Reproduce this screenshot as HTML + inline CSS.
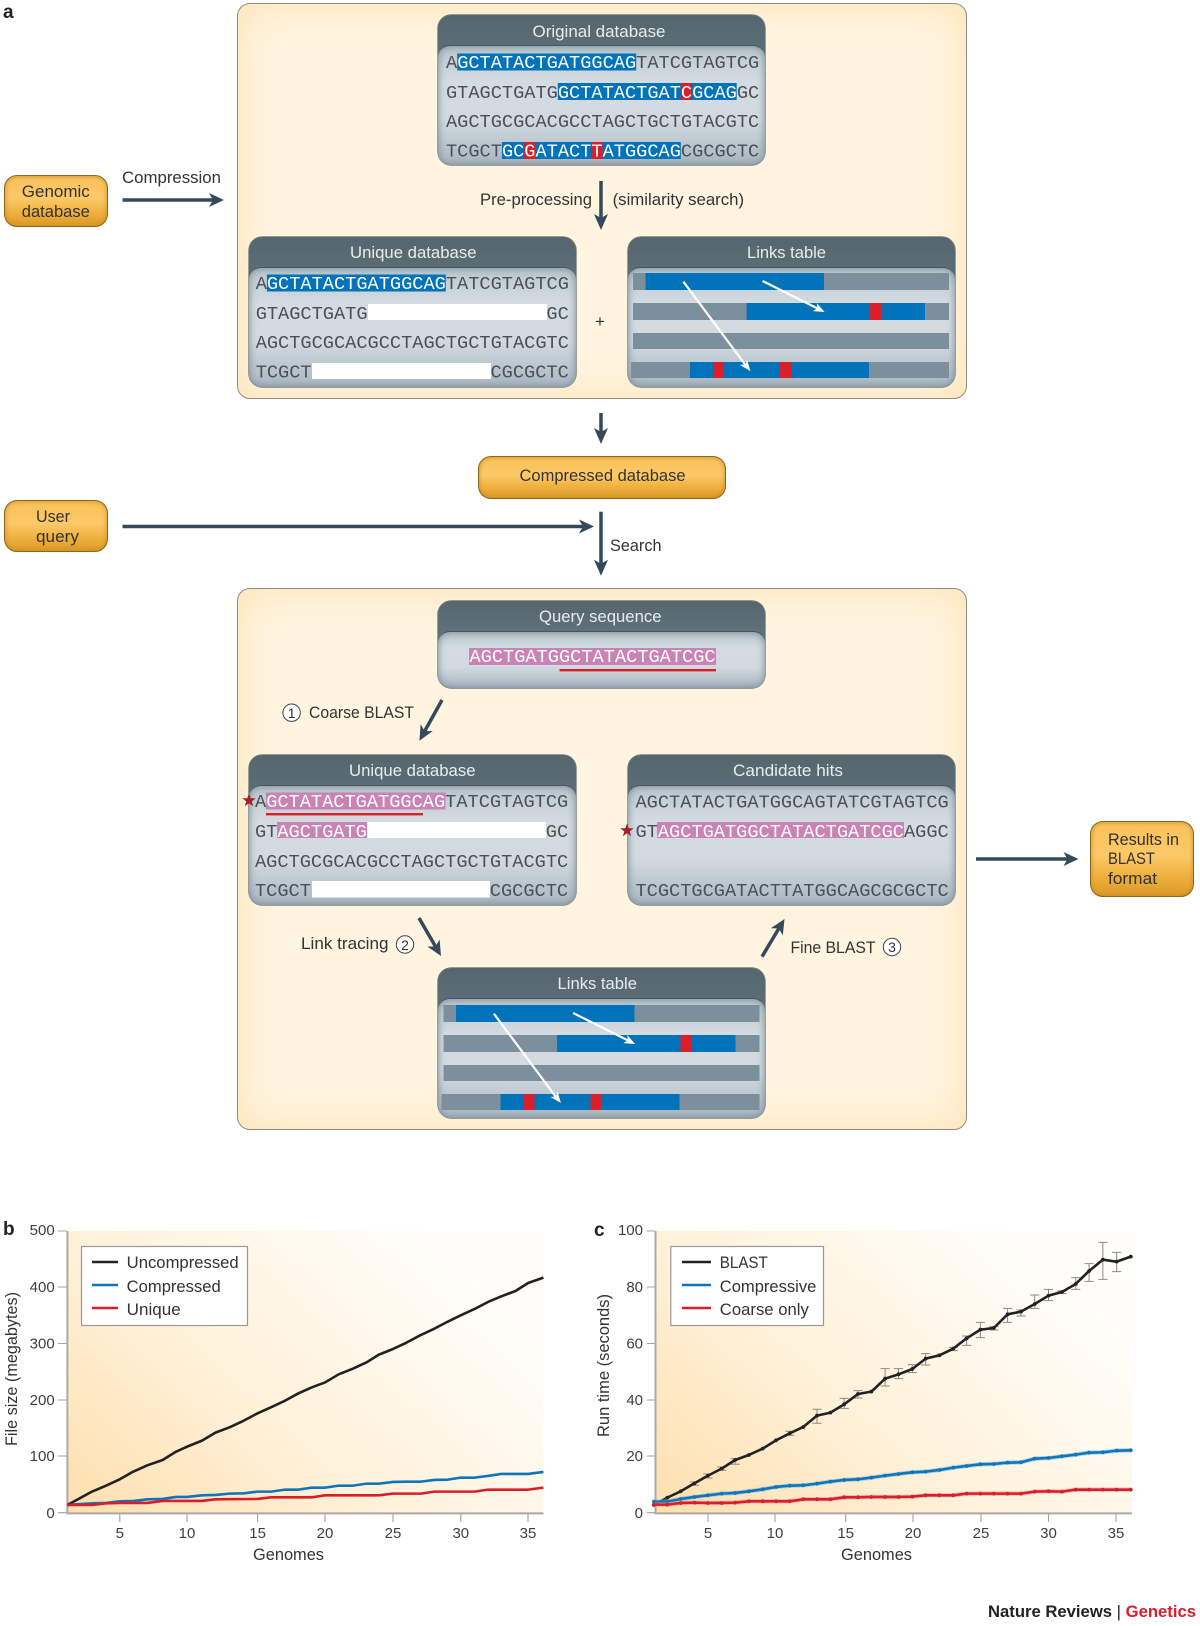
<!DOCTYPE html>
<html><head><meta charset="utf-8"><style>
html,body{margin:0;padding:0;background:#fff}
body{position:relative;width:1200px;height:1626px;overflow:hidden;font-family:"Liberation Sans",sans-serif}
.o{position:absolute;box-sizing:border-box;left:237px;width:729.5px;background:#fff4e0;border:1px solid #8d8d84;border-radius:13px;box-shadow:inset 0 0 42px #ffe2b2}
.p{position:absolute;box-sizing:border-box;width:327px;background:linear-gradient(#56666f,#68787f 60%,#4e5e69);border-radius:13px;box-shadow:0 0 0 .6px #56666f}
.b{position:absolute;left:0;right:0;top:30px;bottom:0;border-radius:12px;border-top:1px solid #46565f;background:linear-gradient(#b9c6ce 0,#d4dce2 30%,#d2dae0 62%,#a8b6c0 100%);box-shadow:inset 0 0 8px #75858f}
.g{position:absolute;box-sizing:border-box;border:1px solid #8a6820;border-radius:13px;background:linear-gradient(#f8c15a 0,#fcc968 45%,#efb13f 72%,#dc9a27 100%);box-shadow:inset 0 0 5px #c98a1e}
svg{position:absolute;left:0;top:0}
text{font-family:"Liberation Sans",sans-serif;font-size:16.5px;fill:#333}
.m{font-family:"Liberation Mono",monospace;font-size:18.65px;fill:#4a5055;white-space:pre}
.h{fill:#e6edf0;font-size:17px}
.w{fill:#fff}
.t{font-size:15px;fill:#3f3f3f}
.l{font-weight:bold;font-size:19px;fill:#222}
.v{vector-effect:non-scaling-stroke;fill:none;stroke-linejoin:round}
</style></head><body>
<div class="o" style="top:3px;height:395.5px"></div>
<div class="o" style="top:588px;height:542px"></div>

<div class="p" style="left:438px;top:15px;height:150px"><div class="b"></div></div>
<div class="p" style="left:249px;top:236.5px;height:150.5px"><div class="b"></div></div>
<div class="p" style="left:627.5px;top:236.5px;height:150.5px"><div class="b"></div></div>
<div class="p" style="left:438px;top:601px;height:87px"><div class="b"></div></div>
<div class="p" style="left:249px;top:754.5px;height:150px"><div class="b"></div></div>
<div class="p" style="left:627.5px;top:754.5px;height:150px"><div class="b"></div></div>
<div class="p" style="left:438px;top:968px;height:150px"><div class="b"></div></div>

<div class="g" style="left:4px;top:175px;width:104px;height:52px"></div>
<div class="g" style="left:4px;top:500px;width:104px;height:52px"></div>
<div class="g" style="left:478px;top:456px;width:248px;height:42.5px"></div>
<div class="g" style="left:1090px;top:821px;width:103.5px;height:75.5px"></div>

<svg width="1200" height="1626" viewBox="0 0 1200 1626" xmlns="http://www.w3.org/2000/svg">
<defs>
<linearGradient id="pg" x1="0" y1="1" x2="1" y2="0.35"><stop offset="0" stop-color="#fedfae"/><stop offset=".45" stop-color="#fff1d9"/><stop offset="1" stop-color="#fffefb"/></linearGradient>
<marker id="mk" markerUnits="userSpaceOnUse" markerWidth="14" markerHeight="14" refX="7" refY="7"><ellipse cx="7" cy="7" rx="5" ry="5.7" fill="#222"/></marker>
<marker id="mb" markerUnits="userSpaceOnUse" markerWidth="14" markerHeight="14" refX="7" refY="7"><ellipse cx="7" cy="7" rx="5" ry="5.7" fill="#0f75b8"/></marker>
<marker id="mr" markerUnits="userSpaceOnUse" markerWidth="14" markerHeight="14" refX="7" refY="7"><ellipse cx="7" cy="7" rx="5" ry="5.7" fill="#d71f2b"/></marker>
<g id="links">
<g fill="#7b909c">
<rect x="633" y="273" width="316" height="17"/><rect x="633" y="303" width="316" height="17"/><rect x="633" y="333" width="316" height="16"/><rect x="631" y="362" width="318" height="16"/>
</g>
<g fill="#0073ba">
<rect x="645.5" y="273" width="178.5" height="17"/><rect x="746.6" y="303" width="178.4" height="17"/><rect x="690" y="362" width="179" height="16"/>
</g>
<g fill="#d91f2a">
<rect x="870" y="303" width="11" height="17"/><rect x="713" y="362" width="11" height="16"/><rect x="780" y="362" width="11" height="16"/>
</g>
<g stroke="#fff" stroke-width="2.2" fill="none"><path d="M683.4 281.7L745.2 364.6"/><path d="M762.6 281L817.4 308.4"/></g>
<g fill="#fff"><path d="M750.4 371L747 359.5L745.2 364.6L739.8 364.9Z"/><path d="M824.6 312L816.8 303.1L817.4 308.4L812.8 311.1Z"/></g>
</g>
</defs>

<!-- section labels -->
<text class="l" x="3" y="18">a</text>
<text class="l" x="3" y="1235">b</text>
<text class="l" x="594" y="1236">c</text>

<!-- orange box text -->
<text x="21.8" y="197" textLength="68" lengthAdjust="spacingAndGlyphs">Genomic</text>
<text x="21.8" y="217" textLength="68" lengthAdjust="spacingAndGlyphs">database</text>
<text x="36" y="522" textLength="34" lengthAdjust="spacingAndGlyphs">User</text>
<text x="36" y="542" textLength="43" lengthAdjust="spacingAndGlyphs">query</text>
<text x="519.5" y="481" textLength="166" lengthAdjust="spacingAndGlyphs">Compressed database</text>
<text x="1108" y="845" textLength="71" lengthAdjust="spacingAndGlyphs">Results in</text>
<text x="1108" y="864" textLength="47" lengthAdjust="spacingAndGlyphs">BLAST</text>
<text x="1108" y="884" textLength="49" lengthAdjust="spacingAndGlyphs">format</text>

<!-- dark arrows -->
<g stroke="#34495a" stroke-width="3.5" fill="none">
<path d="M122.5 200H214"/><path d="M122.5 526.5H584"/><path d="M601 181V218"/><path d="M601 413V432"/><path d="M601 511.7V564"/>
<path d="M976 859H1068"/><path d="M442 700L424.7 731.1"/><path d="M419 918L435.5 946.5"/><path d="M762 956.7L778.9 928.4"/>
</g>
<g fill="#34495a">
<path d="M224 200L209 193L213 200L209 207Z"/>
<path d="M594 526.5L579 519.5L583 526.5L579 533.5Z"/>
<path d="M601 230L594 214L601 218L608 214Z"/>
<path d="M601 444L594 428L601 432L608 428Z"/>
<path d="M601 575.7L594 559.7L601 563.7L608 559.7Z"/>
<path d="M1078.5 859L1063.5 852L1067.5 859L1063.5 866Z"/>
<path d="M419.4 740.7L432.8 731L424.7 731.1L420.6 724.2Z"/>
<path d="M441 956L439.6 939.5L435.5 946.5L427.4 946.5Z"/>
<path d="M784.5 919L782.8 935.5L778.9 928.4L770.8 928.3Z"/>
</g>

<!-- flow labels -->
<text x="122" y="183" textLength="99" lengthAdjust="spacingAndGlyphs">Compression</text>
<text x="480" y="205" textLength="112" lengthAdjust="spacingAndGlyphs">Pre-processing</text>
<text x="612.6" y="205" textLength="131.5" lengthAdjust="spacingAndGlyphs">(similarity search)</text>
<text x="610" y="551" textLength="51.5" lengthAdjust="spacingAndGlyphs">Search</text>
<text x="309" y="718" textLength="105" lengthAdjust="spacingAndGlyphs">Coarse BLAST</text>
<text x="301" y="949" textLength="87.5" lengthAdjust="spacingAndGlyphs">Link tracing</text>
<text x="790.5" y="953" textLength="85" lengthAdjust="spacingAndGlyphs">Fine BLAST</text>
<text x="600" y="327" text-anchor="middle" style="font-size:17px">+</text>
<g fill="#fff" stroke="#444" stroke-width="1"><circle cx="291.6" cy="712.7" r="8.7"/><circle cx="405" cy="944.5" r="8.7"/><circle cx="892" cy="947" r="8.7"/></g>
<text x="291.6" y="718" text-anchor="middle" style="font-size:14px">1</text><text x="405" y="950" text-anchor="middle" style="font-size:14px">2</text><text x="892" y="952" text-anchor="middle" style="font-size:14px">3</text>

<!-- panel titles -->
<text class="h" x="532.5" y="37" textLength="133" lengthAdjust="spacingAndGlyphs">Original database</text>
<text class="h" x="350" y="258" textLength="126.5" lengthAdjust="spacingAndGlyphs">Unique database</text>
<text class="h" x="747" y="258" textLength="79" lengthAdjust="spacingAndGlyphs">Links table</text>
<text class="h" x="539" y="622" textLength="122.5" lengthAdjust="spacingAndGlyphs">Query sequence</text>
<text class="h" x="349" y="776" textLength="126.5" lengthAdjust="spacingAndGlyphs">Unique database</text>
<text class="h" x="733" y="776" textLength="110" lengthAdjust="spacingAndGlyphs">Candidate hits</text>
<text class="h" x="557.5" y="989" textLength="79.5" lengthAdjust="spacingAndGlyphs">Links table</text>

<!-- original database -->
<g fill="#0073ba">
<rect x="457.2" y="53.5" width="179" height="17"/><rect x="557.8" y="83" width="178.9" height="17"/><rect x="501.9" y="142" width="178.9" height="17"/>
</g>
<g fill="#d91f2a"><rect x="680.8" y="83" width="11.2" height="17"/><rect x="524.3" y="142" width="11.2" height="17"/><rect x="591.3" y="142" width="11.2" height="17"/></g>
<text class="m" x="446" y="68">A<tspan class="w">GCTATACTGATGGCAG</tspan>TATCGTAGTCG</text>
<text class="m" x="446" y="98">GTAGCTGATG<tspan class="w">GCTATACTGATCGCAG</tspan>GC</text>
<text class="m" x="446" y="127">AGCTGCGCACGCCTAGCTGCTGTACGTC</text>
<text class="m" x="446" y="156.5">TCGCT<tspan class="w">GCGATACTTATGGCAG</tspan>CGCGCTC</text>

<!-- unique database -->
<rect x="266.9" y="274.5" width="178.9" height="17" fill="#0073ba"/>
<g fill="#fff"><rect x="368" y="304" width="179" height="16"/><rect x="312" y="363" width="179" height="16"/></g>
<text class="m" x="255.7" y="289">A<tspan class="w">GCTATACTGATGGCAG</tspan>TATCGTAGTCG</text>
<text class="m" x="255.7" y="319">GTAGCTGATG</text>
<text class="m" x="546.4" y="319">GC</text>
<text class="m" x="255.7" y="348">AGCTGCGCACGCCTAGCTGCTGTACGTC</text>
<text class="m" x="255.7" y="377.5">TCGCT</text>
<text class="m" x="490.5" y="377.5">CGCGCTC</text>

<!-- links tables -->
<use href="#links"/>
<use href="#links" transform="translate(-189.5 732)"/>

<!-- query -->
<rect x="469" y="648" width="247" height="17" fill="#c983b5"/>
<text class="m w" x="469.5" y="662">AGCTGATGGCTATACTGATCGC</text>
<rect x="559.5" y="669" width="156.5" height="2.4" fill="#d91f2a"/>

<!-- unique 2 -->
<g fill="#c983b5"><rect x="266" y="792.5" width="179.5" height="17"/><rect x="277" y="822" width="90" height="16"/></g>
<g fill="#fff"><rect x="367.5" y="822" width="178.5" height="16"/><rect x="312" y="881" width="178" height="16.5"/></g>
<text class="m" x="255" y="807">A<tspan class="w">GCTATACTGATGGCAG</tspan>TATCGTAGTCG</text>
<rect x="266" y="813" width="157" height="2.4" fill="#d91f2a"/>
<text class="m" x="255" y="837">GT<tspan class="w">AGCTGATG</tspan></text>
<text class="m" x="545.8" y="837">GC</text>
<text class="m" x="255" y="867">AGCTGCGCACGCCTAGCTGCTGTACGTC</text>
<text class="m" x="255" y="896">TCGCT</text>
<text class="m" x="489.8" y="896">CGCGCTC</text>
<path d="M249 793.5l1.7 4.7 5 .1-4 3.1 1.5 4.8-4.2-2.9-4.2 2.9 1.5-4.8-4-3.1 5-.1Z" fill="#a3202a"/>

<!-- candidate -->
<rect x="657" y="822" width="247" height="16" fill="#c983b5"/>
<text class="m" x="635.5" y="807.5">AGCTATACTGATGGCAGTATCGTAGTCG</text>
<text class="m" x="635.5" y="837">GT<tspan class="w">AGCTGATGGCTATACTGATCGC</tspan>AGGC</text>
<text class="m" x="635.5" y="896">TCGCTGCGATACTTATGGCAGCGCGCTC</text>
<path d="M627 823.5l1.7 4.7 5 .1-4 3.1 1.5 4.8-4.2-2.9-4.2 2.9 1.5-4.8-4-3.1 5-.1Z" fill="#a3202a"/>

<!-- chart b -->
<rect x="67.4" y="1231" width="476" height="281.7" fill="url(#pg)"/>
<g stroke="#a3a3a0" stroke-width="1.1">
<path d="M58 1231H67M58 1287H67M58 1343.5H67M58 1400H67M58 1456H67M58 1512.7H67"/>
<path d="M119.8 1513V1522M187 1513V1522M257.6 1513V1522M325 1513V1522M393 1513V1522M460.8 1513V1522M528 1513V1522"/>
</g>
<path d="M67.4 1231V1513.4H543.4" fill="none" stroke="#aaa9a5" stroke-width="2"/>
<text class="t" x="54.7" y="1235" text-anchor="end">500</text><text class="t" x="54.7" y="1292" text-anchor="end">400</text><text class="t" x="54.7" y="1348.5" text-anchor="end">300</text><text class="t" x="54.7" y="1405" text-anchor="end">200</text><text class="t" x="54.7" y="1461" text-anchor="end">100</text><text class="t" x="54.7" y="1518" text-anchor="end">0</text>
<text class="t" x="119.8" y="1538" text-anchor="middle">5</text><text class="t" x="187" y="1538" text-anchor="middle">10</text><text class="t" x="257.6" y="1538" text-anchor="middle">15</text><text class="t" x="325" y="1538" text-anchor="middle">20</text><text class="t" x="393" y="1538" text-anchor="middle">25</text><text class="t" x="460.8" y="1538" text-anchor="middle">30</text><text class="t" x="528" y="1538" text-anchor="middle">35</text>
<text x="253" y="1560" textLength="71" lengthAdjust="spacingAndGlyphs">Genomes</text>
<text transform="translate(17 1446) rotate(-90)" x="0" y="0" textLength="154" lengthAdjust="spacingAndGlyphs">File size (megabytes)</text>

<g transform="translate(0 1200) scale(.3827 .3333)">
<polyline class="v" stroke="#222" stroke-width="2.6" points="176,915 205,897 240,875 277,857 313,838 348,815 385,796 425,780 460,755 489,740 528,722 563,698 600,682 637,662 673,640 708,622 745,602 780,580 815,562 850,547 885,523 922,506 958,487 990,464 1027,447 1062,428 1098,406 1135,386 1170,365 1204,346 1240,327 1275,306 1310,289 1347,273 1380,249 1420,233"/>
<polyline class="v" stroke="#0f75b8" stroke-width="2.6" points="176,915 240,910 277,909 313,904 350,903 385,898 425,897 460,891 489,891 528,886 563,885 600,881 637,880 673,875 708,875 745,869 780,869 815,863 850,863 885,857 922,857 958,851 990,851 1027,846 1062,845 1100,845 1135,840 1170,839 1204,833 1240,833 1275,828 1310,822 1347,822 1380,822 1420,816"/>
<polyline class="v" stroke="#d71f2b" stroke-width="2.6" points="176,915 240,915 277,910 313,909 385,909 425,903 528,903 563,898 673,897 708,892 815,892 850,886 990,886 1027,881 1100,881 1135,875 1240,875 1275,869 1380,869 1420,863"/>
</g>
<rect x="81.5" y="1246.5" width="166" height="79" fill="#fff" stroke="#9a9a9a" stroke-width="1.2"/>
<path d="M92 1262H118" stroke="#222" stroke-width="2.4"/><path d="M92 1285H118" stroke="#0f75b8" stroke-width="2.4"/><path d="M92 1308H118" stroke="#d71f2b" stroke-width="2.4"/>
<text x="126.7" y="1268" textLength="112" lengthAdjust="spacingAndGlyphs">Uncompressed</text>
<text x="126.7" y="1292" textLength="94" lengthAdjust="spacingAndGlyphs">Compressed</text>
<text x="126.7" y="1315" textLength="54" lengthAdjust="spacingAndGlyphs">Unique</text>

<!-- chart c -->
<rect x="655.5" y="1231" width="476.5" height="281.7" fill="url(#pg)"/>
<g stroke="#a3a3a0" stroke-width="1.1">
<path d="M646.7 1231H655M646.7 1287H655M646.7 1343.5H655M646.7 1400H655M646.7 1456H655M646.7 1512.7H655"/>
<path d="M708 1513V1522M775 1513V1522M845.7 1513V1522M913 1513V1522M981 1513V1522M1048.5 1513V1522M1116 1513V1522"/>
</g>
<path d="M655.5 1231V1513.4H1132" fill="none" stroke="#aaa9a5" stroke-width="2"/>
<text class="t" x="643" y="1235" text-anchor="end">100</text><text class="t" x="643" y="1292" text-anchor="end">80</text><text class="t" x="643" y="1348.5" text-anchor="end">60</text><text class="t" x="643" y="1405" text-anchor="end">40</text><text class="t" x="643" y="1461" text-anchor="end">20</text><text class="t" x="643" y="1518" text-anchor="end">0</text>
<text class="t" x="708" y="1538" text-anchor="middle">5</text><text class="t" x="775" y="1538" text-anchor="middle">10</text><text class="t" x="845.7" y="1538" text-anchor="middle">15</text><text class="t" x="913" y="1538" text-anchor="middle">20</text><text class="t" x="981" y="1538" text-anchor="middle">25</text><text class="t" x="1048.5" y="1538" text-anchor="middle">30</text><text class="t" x="1116" y="1538" text-anchor="middle">35</text>
<text x="841" y="1560" textLength="71" lengthAdjust="spacingAndGlyphs">Genomes</text>
<text transform="translate(609 1437) rotate(-90)" x="0" y="0" textLength="143" lengthAdjust="spacingAndGlyphs">Run time (seconds)</text>

<g transform="translate(600 1200) scale(.3827 .3333)">
<path class="v" stroke="#8a8a85" stroke-width="1" d="M1314 127V238M1302 127H1326M1302 238H1326M1350 157V215M1338 157H1362M1338 215H1362M1278 191V244M1266 191H1290M1266 244H1290M1243 233V268M1231 233H1255M1231 268H1255M1172 268V302M1160 268H1184M1160 302H1184M1136 285V325M1124 285H1148M1124 325H1148M1100 330V348M1088 330H1112M1088 348H1112M1065 325V367M1053 325H1077M1053 367H1077M994 367V413M982 367H1006M982 413H1006M958 408V436M946 408H970M946 436H970M851 461V495M839 461H863M839 495H863M816 494V518M804 494H828M804 518H828M780 506V536M768 506H792M768 536H792M745 506V558M733 506H757M733 558H757M674 572V594M662 572H686M662 594H686M638 595V625M626 595H650M626 625H650M567 628V670M555 628H579M555 670H579M353 776V793M341 776H365M341 793H365M282 822V834M270 822H294M270 834H294M247 846V856M235 846H259M235 856H259M496 694V706M484 694H508M484 706H508M1029 380V390M1017 380H1041M1017 390H1041M1207 273V280M1195 273H1219M1195 280H1219M923 442V452M911 442H935M911 452H935M318 801V811M306 801H330M306 811H330"/>
<polyline class="v" stroke="#222" stroke-width="2.6" marker-start="url(#mk)" marker-mid="url(#mk)" marker-end="url(#mk)" points="141,915 176,893 211,874 247,850 282,827 318,806 353,780 389,765 425,746 460,721 496,700 531,681 567,647 602,638 638,613 674,582 709,575 745,536 780,523 816,507 851,476 887,466 923,446 958,415 994,389 1029,384 1065,343 1100,335 1136,312 1172,287 1207,276 1243,252 1278,213 1314,179 1350,185 1387,170"/>
<polyline class="v" stroke="#7dbbe0" stroke-opacity=".55" stroke-width="4.5" points="141,905 176,905 211,897 247,891 282,886 318,881 353,879 389,874 425,868 460,861 496,857 531,856 567,851 602,845 638,840 674,838 709,833 745,827 780,822 816,817 851,815 887,810 923,803 958,798 994,793 1029,792 1065,788 1100,787 1136,776 1172,774 1207,769 1243,764 1278,758 1314,757 1350,752 1387,751"/>
<polyline class="v" stroke="#0f75b8" stroke-width="2.6" marker-start="url(#mb)" marker-mid="url(#mb)" marker-end="url(#mb)" points="141,905 176,905 211,897 247,891 282,886 318,881 353,879 389,874 425,868 460,861 496,857 531,856 567,851 602,845 638,840 674,838 709,833 745,827 780,822 816,817 851,815 887,810 923,803 958,798 994,793 1029,792 1065,788 1100,787 1136,776 1172,774 1207,769 1243,764 1278,758 1314,757 1350,752 1387,751"/>
<polyline class="v" stroke="#ee8f8f" stroke-opacity=".5" stroke-width="4.5" points="141,914 176,914 211,909 247,908 282,909 318,909 353,908 389,904 425,904 460,904 496,904 531,898 567,898 602,898 638,892 674,892 709,891 745,891 780,891 816,890 851,886 887,886 923,886 958,881 994,881 1029,881 1065,881 1100,881 1136,875 1172,874 1207,875 1243,869 1278,869 1314,869 1350,869 1387,869"/>
<polyline class="v" stroke="#d71f2b" stroke-width="2.6" marker-start="url(#mr)" marker-mid="url(#mr)" marker-end="url(#mr)" points="141,914 176,914 211,909 247,908 282,909 318,909 353,908 389,904 425,904 460,904 496,904 531,898 567,898 602,898 638,892 674,892 709,891 745,891 780,891 816,890 851,886 887,886 923,886 958,881 994,881 1029,881 1065,881 1100,881 1136,875 1172,874 1207,875 1243,869 1278,869 1314,869 1350,869 1387,869"/>
</g>
<rect x="670.8" y="1246.5" width="152.7" height="79" fill="#fff" stroke="#9a9a9a" stroke-width="1.2"/>
<path d="M682 1262H711" stroke="#222" stroke-width="2.4"/><path d="M682 1285H711" stroke="#0f75b8" stroke-width="2.4"/><path d="M682 1308H711" stroke="#d71f2b" stroke-width="2.4"/>
<text x="719.8" y="1268" textLength="48" lengthAdjust="spacingAndGlyphs">BLAST</text>
<text x="719.8" y="1292" textLength="96.5" lengthAdjust="spacingAndGlyphs">Compressive</text>
<text x="719.8" y="1315" textLength="89" lengthAdjust="spacingAndGlyphs">Coarse only</text>

<!-- credit -->
<text x="988" y="1617" textLength="208" lengthAdjust="spacingAndGlyphs" style="font-weight:bold;font-size:17px;fill:#222">Nature Reviews <tspan style="font-weight:normal;fill:#222">|</tspan> <tspan style="fill:#d71f2b">Genetics</tspan></text>
</svg>
</body></html>
